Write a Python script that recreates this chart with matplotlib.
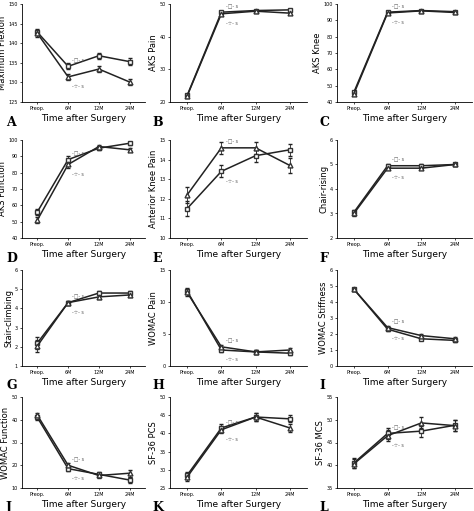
import matplotlib
matplotlib.use("Agg")
import matplotlib.pyplot as plt

xlabels = ["Preop.", "6M", "12M", "24M"]
letters = list("ABCDEFGHIJKL")
ylabels = ["Maximum Flexion", "AKS Pain", "AKS Knee", "AKS Function", "Anterior Knee Pain",
           "Chair-rising", "Stair-climbing", "WOMAC Pain", "WOMAC Stiffness",
           "WOMAC Function", "SF-36 PCS", "SF-36 MCS"]
squares = [[142.8, 134.1, 136.8, 135.3], [22, 47.5, 48, 48.2], [46, 95, 96, 95.3],
           [56, 88, 95, 98], [11.5, 13.4, 14.2, 14.5], [3.05, 4.95, 4.95, 5.0],
           [2.2, 4.3, 4.8, 4.8], [11.7, 2.5, 2.2, 2.0], [4.8, 2.3, 1.7, 1.6],
           [41, 18.5, 16, 13.5], [28.5, 41.5, 44.5, 44], [40.5, 47, 47.5, 48.8]]
triangles = [[142.5, 131.4, 133.4, 130.1], [21.8, 47, 47.8, 47.2], [45, 94.5, 95.8, 94.8],
             [51, 85, 96, 94], [12.2, 14.6, 14.6, 13.7], [3.0, 4.85, 4.85, 5.0],
             [2.05, 4.3, 4.6, 4.7], [11.5, 3.0, 2.2, 2.5], [4.8, 2.4, 1.9, 1.7],
             [42, 20, 15.5, 16.5], [28, 41, 44.5, 41.5], [40.3, 46.5, 49.3, 48.7]]
sq_err = [[0.8, 0.8, 0.8, 0.8], [0.5, 0.3, 0.3, 0.3], [1, 0.5, 0.5, 0.5], [2, 2, 1, 1],
          [0.4, 0.3, 0.3, 0.3], [0.1, 0.05, 0.05, 0.05], [0.3, 0.1, 0.1, 0.1],
          [0.5, 0.3, 0.3, 0.3], [0.1, 0.1, 0.1, 0.1], [1, 1, 1, 1.5], [1, 1, 1, 1],
          [1, 1.2, 1.2, 1.2]]
tr_err = [[0.8, 0.8, 0.8, 0.8], [0.5, 0.3, 0.3, 0.3], [1, 0.5, 0.5, 0.5], [2, 2, 1, 1],
          [0.4, 0.3, 0.3, 0.4], [0.1, 0.05, 0.05, 0.05], [0.3, 0.1, 0.1, 0.1],
          [0.5, 0.3, 0.3, 0.3], [0.1, 0.1, 0.1, 0.1], [1, 1, 1, 1.5], [1, 1, 1, 1],
          [1, 1.2, 1.2, 1.2]]
ylims = [(125, 150, 5), (20, 50, 10), (40, 100, 10), (40, 100, 10), (10, 15, 1), (2, 6, 1),
         (1, 6, 1), (0, 15, 5), (0, 6, 1), (10, 50, 10), (25, 50, 5), (35, 55, 5)]

W, H = 474, 511
fig = plt.figure(figsize=(W / 100, H / 100), dpi=100)
rows = [(4, 102), (140, 238), (270, 366), (397, 488)]
cols = [(22, 145), (170, 307), (337, 472)]
for i in range(12):
    r, c = divmod(i, 3)
    t, b = rows[r]
    l, rr = cols[c]
    ax = fig.add_axes([l / W, 1 - b / H, (rr - l) / W, (b - t) / H])
    x = range(4)
    ax.errorbar(x, squares[i], yerr=sq_err[i], color="#222", marker="s", ms=3.5, mfc="white",
                mec="#333", lw=1.1, elinewidth=0.6, capsize=1.2)
    ax.errorbar(x, triangles[i], yerr=tr_err[i], color="#222", marker="^", ms=3.5, mfc="white",
                mec="#333", lw=1.1, elinewidth=0.6, capsize=1.2)
    lo, hi, st = ylims[i]
    ax.set_ylim(lo, hi)
    ax.set_yticks([lo + k * st for k in range(int(round((hi - lo) / st)) + 1)])
    ax.set_xlim(-0.5, 3.5)
    ax.set_xticks(x)
    ax.set_xticklabels(xlabels)
    ax.tick_params(labelsize=3.5, length=1.5, width=0.5, pad=1.5)
    for s in ["top", "right"]:
        ax.spines[s].set_visible(False)
    for s in ["left", "bottom"]:
        ax.spines[s].set_linewidth(0.6)
    ax.set_ylabel(ylabels[i], fontsize=6, labelpad=1)
    ax.set_xlabel("Time after Surgery", fontsize=6.5, labelpad=2)
    ax.text(-0.13, -0.14, letters[i], transform=ax.transAxes, fontsize=9, fontweight="bold",
            family="DejaVu Serif", va="top", ha="left")
    ax.annotate("-□- s", (1, max(squares[i][1], triangles[i][1])), xytext=(3, 3),
                textcoords="offset points", fontsize=3.5, color="#555")
    ax.annotate("-☆- s", (1, min(squares[i][1], triangles[i][1])), xytext=(3, -8),
                textcoords="offset points", fontsize=3.5, color="#555")

fig.savefig("out.png", dpi=100)
